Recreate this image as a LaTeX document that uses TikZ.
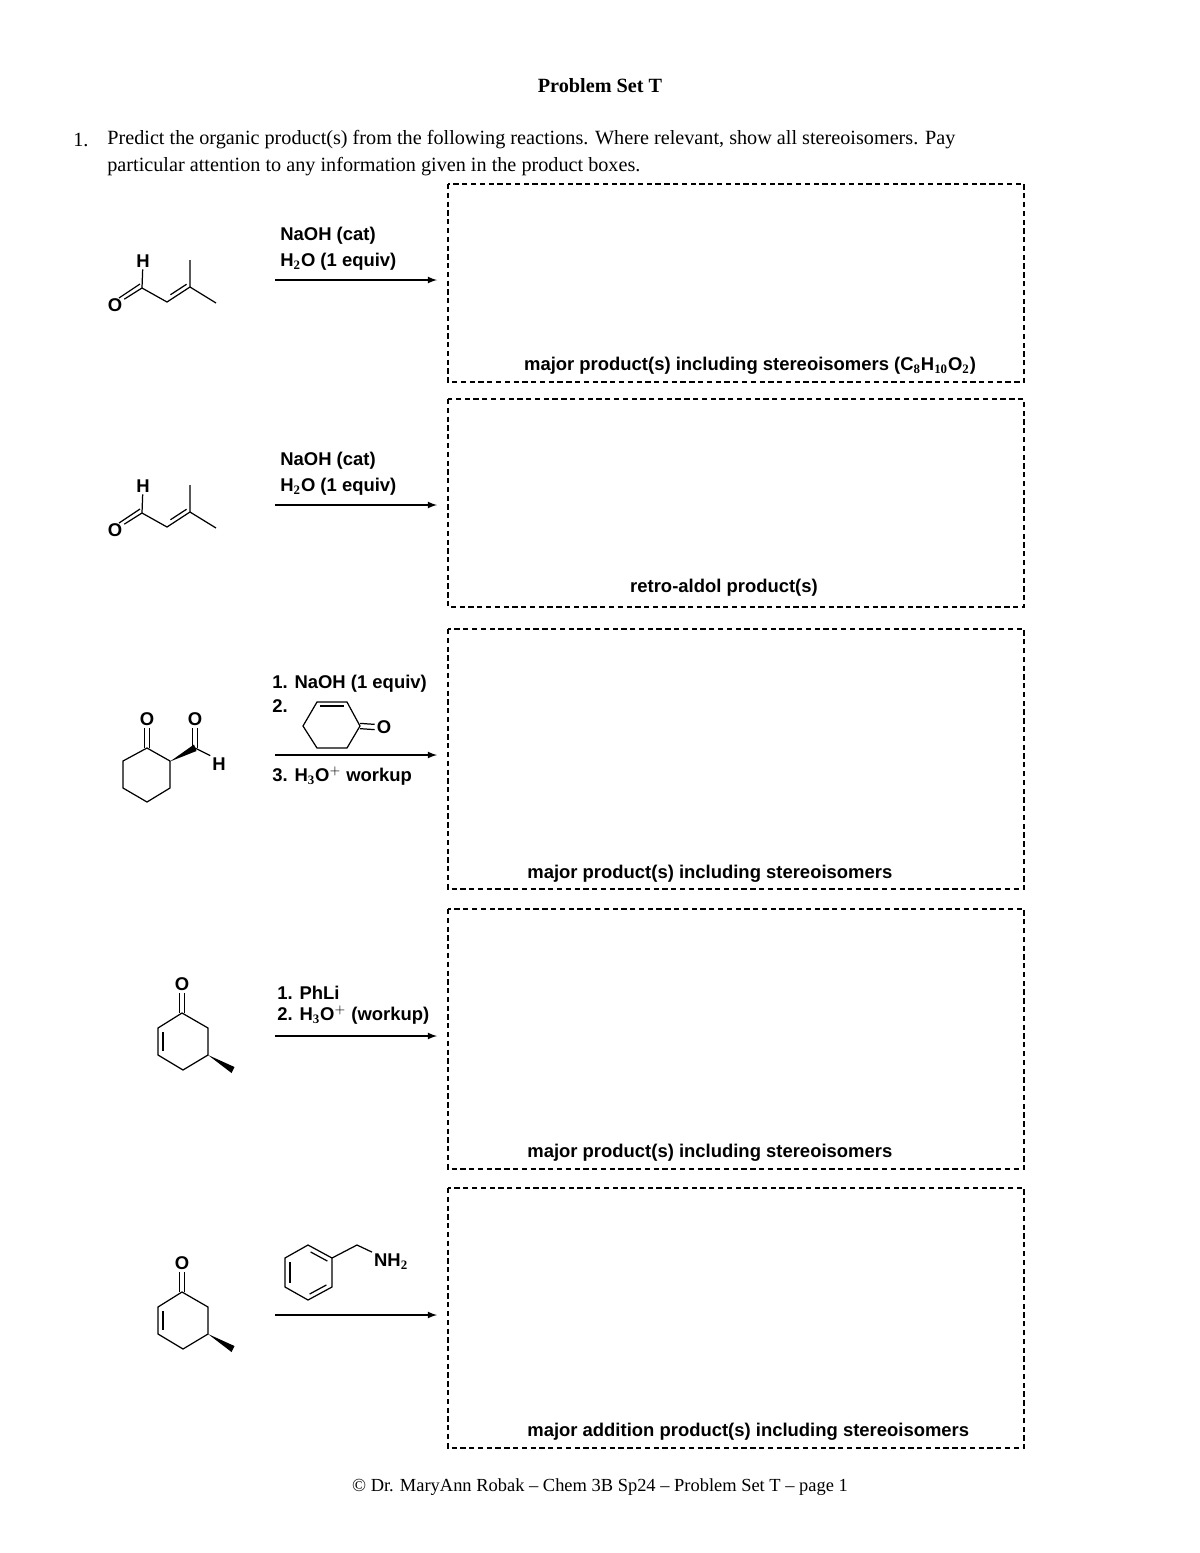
\documentclass[tikz,border=0pt]{standalone}
\usepackage{fontspec}
\setmainfont{Liberation Serif}
\newfontfamily\lab{Liberation Sans}
\usetikzlibrary{calc}
\begin{document}
\begin{tikzpicture}[x=0.02cm,y=-0.02cm,
  bd/.style={line width=0.7pt},
  box/.style={draw,line width=0.6pt,dash pattern=on 3pt off 2pt},
  rx/.style={-latex,line width=0.8pt},
  lb/.style={font=\lab\bfseries\fontsize{10.5}{12}\selectfont,inner sep=0pt},
  atm/.style={font=\lab\bfseries\fontsize{10.5}{12}\selectfont,inner sep=1pt},
  tx/.style={font=\fontsize{11.5}{14}\selectfont,inner sep=0pt,anchor=west}]
\useasboundingbox (0,0) rectangle (1200,1553);
\node[font=\bfseries\fontsize{11.5}{14}\selectfont] (title) at (600,86) {Problem Set T};
\node[tx] (n1) at (73,140) {1.};
\node[tx] (l1) at (107,140) {Predict the organic product(s) from the following reactions. Where relevant, show all stereoisomers. Pay};
\node[tx] (l2) at (107,167) {particular attention to any information given in the product boxes.};
\node[font=\fontsize{10.5}{12}\selectfont] (foot) at (600,1487) {\textcopyright{} Dr. MaryAnn Robak -- Chem 3B Sp24 -- Problem Set T -- page 1};
% boxes
\draw[box] (448,184) rectangle (1024,382);
\draw[box] (448,399) rectangle (1024,607);
\draw[box] (448,629) rectangle (1024,889);
\draw[box] (448,909) rectangle (1024,1169);
\draw[box] (448,1188) rectangle (1024,1448);
\node[lb] (b1) at (750,366) {major product(s) including stereoisomers (C$_{\mathbf 8}$H$_{\mathbf{10}}$O$_{\mathbf 2}$)};
\node[lb] (b2) at (724,588) {retro-aldol product(s)};
\node[lb,anchor=west] (b3) at (527,874) {major product(s) including stereoisomers};
\node[lb,anchor=west] (b4) at (527,1153) {major product(s) including stereoisomers};
\node[lb,anchor=west] (b5) at (527,1432) {major addition product(s) including stereoisomers};
% arrows
\foreach \y/\n in {280/1,505/2,755/3,1036/4,1315/5}{
  \coordinate (as\n) at (275,\y); \coordinate (ae\n) at (437,\y);
  \draw[rx] (as\n) -- (ae\n);}
\foreach \dy/\n in {0/1,225/2}{
 \begin{scope}[yshift=-\dy*0.02cm]
 \node[lb,anchor=west] (r1\n) at (280,236) {NaOH (cat)};
 \node[lb,anchor=west] (r2\n) at (280,262) {H$_{\mathbf 2}$O (1 equiv)};
 \node[atm] (O\n) at (115,305) {O};
 \node[atm] (H\n) at (143,261) {H};
 \coordinate (c1\n) at (142,288);
 \coordinate (c2\n) at (167,302);
 \coordinate (c3\n) at (190,287);
 \coordinate (m1\n) at (190,260);
 \coordinate (m2\n) at (216,303);
 \draw[bd] (O\n) -- (c1\n) -- (H\n);
 \draw[bd] ($(O\n)+(4,-7)$) -- ($(c1\n)+(-2,-4)$);
 \draw[bd] (c1\n) -- (c2\n) -- (c3\n) -- (m1\n) (c3\n) -- (m2\n);
 \draw[bd] ($(c2\n)!0.15!(c3\n)+(0,-5)$) -- ($(c2\n)!0.85!(c3\n)+(0,-5)$);
 \end{scope}}
% molecule 3
\node[atm] (O3a) at (147,719) {O};
\node[atm] (O3b) at (195,719) {O};
\node[atm] (H3) at (219,764) {H};
\coordinate (k1) at (147,748); \coordinate (k2) at (170,761); \coordinate (k3) at (170,788);
\coordinate (k4) at (147,802); \coordinate (k5) at (123,788); \coordinate (k6) at (123,761);
\coordinate (cho) at (195,748);
\draw[bd] (k1)--(k2)--(k3)--(k4)--(k5)--(k6)--cycle;
\draw[bd] ([xshift=-1.5]k1) -- ([xshift=-1.5]O3a.south) ([xshift=1.5]k1) -- ([xshift=1.5]O3a.south);
\draw[bd] ([xshift=-1.5]cho) -- ([xshift=-1.5]O3b.south) ([xshift=1.5]cho) -- ([xshift=1.5]O3b.south);
\fill ($(k2)+(0,0.5)$) -- ($(cho)+(-1,-3.5)$) -- ($(cho)+(1.5,3)$) -- cycle;
\draw[bd] (cho) -- (H3.north west);
\node[lb,anchor=west] (r3a) at (272,684) {1. NaOH (1 equiv)};
\node[lb,anchor=west] (r3b) at (272,706) {2.};
\node[lb,anchor=west] (r3c) at (272,776) {3. H$_{\mathbf 3}$O$^{\mathbf +}$ workup};
\coordinate (e1) at (317,702); \coordinate (e2) at (347,702); \coordinate (e3) at (360,726);
\coordinate (e4) at (347,748); \coordinate (e5) at (317,748); \coordinate (e6) at (303,726);
\node[atm] (Oe) at (384,727) {O};
\draw[bd] (e1)--(e2)--(e3)--(e4)--(e5)--(e6)--cycle;
\draw[bd] ($(e1)+(3,4)$) -- ($(e2)+(-3,4)$);
\draw[bd] ([yshift=-1.5]e3) -- ([yshift=-1.5]Oe.west) ([yshift=1.5]e3) -- ([yshift=1.5]Oe.west);
% molecules 4 and 5
\foreach \dy/\n in {0/4,279/5}{
 \begin{scope}[yshift=-\dy*0.02cm]
 \node[atm] (Ox\n) at (182,984) {O};
 \coordinate (p1\n) at (182,1013); \coordinate (p2\n) at (208,1028); \coordinate (p3\n) at (208,1055);
 \coordinate (p4\n) at (183,1070); \coordinate (p5\n) at (158,1055); \coordinate (p6\n) at (158,1028);
 \coordinate (me\n) at (233,1070);
 \draw[bd] (p1\n)--(p2\n)--(p3\n)--(p4\n)--(p5\n)--(p6\n)--cycle;
 \draw[bd] ([xshift=-1.5]p1\n) -- ([xshift=-1.5]Ox\n.south) ([xshift=1.5]p1\n) -- ([xshift=1.5]Ox\n.south);
 \draw[bd] ($(p6\n)+(5,4)$) -- ($(p5\n)+(5,-4)$);
 \fill (p3\n) -- ($(me\n)+(1.5,-3)$) -- ($(me\n)+(-1.5,3)$) -- cycle;
 \end{scope}}
\node[lb,anchor=west] (r4a) at (277,993) {1. PhLi};
\node[lb,anchor=west] (r4b) at (277,1015) {2. H$_{\mathbf 3}$O$^{\mathbf +}$ (workup)};
% benzylamine
\coordinate (z1) at (308,1245); \coordinate (z2) at (332,1258); \coordinate (z3) at (332,1287);
\coordinate (z4) at (308,1300); \coordinate (z5) at (285,1287); \coordinate (z6) at (285,1258);
\coordinate (ch2) at (357,1245);
\node[atm,anchor=west] (N) at (372,1262) {NH$_{\mathbf 2}$};
\draw[bd] (z1)--(z2)--(z3)--(z4)--(z5)--(z6)--cycle;
\draw[bd] ($(z1)!0.15!(z2)+(-1,5)$) -- ($(z1)!0.85!(z2)+(-1,5)$);
\draw[bd] ($(z3)!0.15!(z4)+(-2,-4)$) -- ($(z3)!0.85!(z4)+(-2,-4)$);
\draw[bd] ($(z5)!0.15!(z6)+(5,0)$) -- ($(z5)!0.85!(z6)+(5,0)$);
\draw[bd] (z2) -- (ch2) -- (N.north west);
\end{tikzpicture}
\end{document}
